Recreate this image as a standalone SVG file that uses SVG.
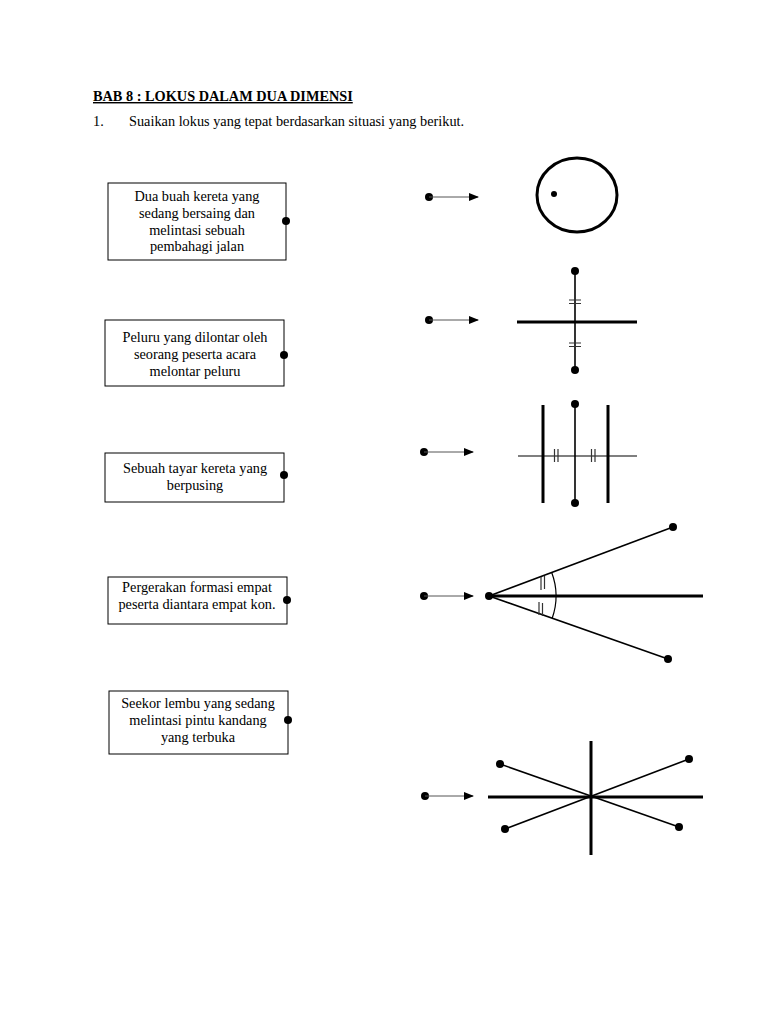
<svg xmlns="http://www.w3.org/2000/svg" width="768" height="1024" viewBox="0 0 768 1024">
<style>
text{font-family:"Liberation Serif","Times New Roman",serif;font-size:14.3px;fill:#000}
.c{text-anchor:middle}
.box{fill:#fff;stroke:#000;stroke-width:1}
.thin{stroke:#000;stroke-width:1.2;fill:none}
.thick{stroke:#000;stroke-width:3;fill:none}
.med{stroke:#000;stroke-width:1.6;fill:none}
.tick{stroke:#333;stroke-width:1.2;fill:none}
.arr{stroke:#555;stroke-width:1;fill:none;marker-end:url(#ah)}
</style>
<defs>
<marker id="ah" markerWidth="10" markerHeight="8" refX="9" refY="4" orient="auto" markerUnits="userSpaceOnUse">
<path d="M0,0 L10,4 L0,8 Z" fill="#000"/>
</marker>
</defs>
<rect width="768" height="1024" fill="#fff"/>
<g id="heading">
<text x="93" y="101" font-weight="bold" text-decoration="underline">BAB 8 : LOKUS DALAM DUA DIMENSI</text>
<text x="93" y="126">1.</text>
<text x="129" y="126">Suaikan lokus yang tepat berdasarkan situasi yang berikut.</text>
</g>
<g id="box1">
<rect class="box" x="108" y="183" width="178" height="77"/>
<text class="c" x="197" y="201">Dua buah kereta yang</text>
<text class="c" x="197" y="218">sedang bersaing dan</text>
<text class="c" x="197" y="235">melintasi sebuah</text>
<text class="c" x="197" y="251">pembahagi jalan</text>
<circle cx="286" cy="221" r="4"/>
</g>
<g id="box2">
<rect class="box" x="105" y="320" width="179" height="66"/>
<text class="c" x="195" y="342">Peluru yang dilontar oleh</text>
<text class="c" x="195" y="359">seorang peserta acara</text>
<text class="c" x="195" y="376">melontar peluru</text>
<circle cx="284" cy="355" r="4"/>
</g>
<g id="box3">
<rect class="box" x="105" y="453" width="179" height="49"/>
<text class="c" x="195" y="473">Sebuah tayar kereta yang</text>
<text class="c" x="195" y="490">berpusing</text>
<circle cx="284" cy="475" r="4"/>
</g>
<g id="box4">
<rect class="box" x="108" y="577" width="179" height="47"/>
<text class="c" x="197" y="592">Pergerakan formasi empat</text>
<text class="c" x="197" y="609">peserta diantara empat kon.</text>
<circle cx="287" cy="600" r="4"/>
</g>
<g id="box5">
<rect class="box" x="109" y="691" width="179" height="63"/>
<text class="c" x="198" y="708">Seekor lembu yang sedang</text>
<text class="c" x="198" y="725">melintasi pintu kandang</text>
<text class="c" x="198" y="742">yang terbuka</text>
<circle cx="288" cy="720" r="4"/>
</g>
<g id="connectors">
<circle cx="429" cy="197" r="4"/><line class="arr" x1="429" y1="197" x2="478" y2="197"/>
<circle cx="429" cy="320" r="4"/><line class="arr" x1="429" y1="320" x2="478" y2="320"/>
<circle cx="424" cy="452" r="4"/><line class="arr" x1="424" y1="452" x2="473" y2="452"/>
<circle cx="424" cy="596" r="4"/><line class="arr" x1="424" y1="596" x2="473" y2="596"/>
<circle cx="425" cy="796" r="4"/><line class="arr" x1="425" y1="796" x2="473" y2="796"/>
</g>
<g id="locus1">
<ellipse class="thick" cx="577" cy="195" rx="40" ry="37"/>
<circle cx="554" cy="194" r="3"/>
</g>
<g id="locus2">
<line class="med" x1="575" y1="271" x2="575" y2="370"/>
<line class="thick" x1="517" y1="322" x2="637" y2="322"/>
<circle cx="575" cy="271" r="4"/>
<circle cx="575" cy="370" r="4"/>
<path class="tick" d="M569,300 H581 M569,303.5 H581 M569,343 H581 M569,346.5 H581"/>
</g>
<g id="locus3">
<line class="thick" x1="543" y1="405" x2="543" y2="503"/>
<line class="thick" x1="608" y1="405" x2="608" y2="503"/>
<line class="med" x1="575" y1="404" x2="575" y2="503"/>
<line class="thin" x1="518" y1="456" x2="637" y2="456"/>
<circle cx="575" cy="404" r="4"/>
<circle cx="575" cy="503" r="4"/>
<path class="tick" d="M554.5,449 V462 M558,449 V462 M591.5,449 V462 M595,449 V462"/>
</g>
<g id="locus4">
<line class="thick" x1="489" y1="596" x2="703" y2="596"/>
<line class="med" x1="489" y1="596" x2="673" y2="527"/>
<line class="med" x1="489" y1="596" x2="668" y2="659"/>
<path class="thin" d="M551.7,572.5 A67,67 0 0 1 552.2,618.2"/>
<circle cx="489" cy="596" r="4"/>
<circle cx="673" cy="527" r="4"/>
<circle cx="668" cy="659" r="4"/>
<path class="tick" d="M541,577 V590 M544.5,576 V589 M539,602 V615 M542.5,603 V616"/>
</g>
<g id="locus5">
<line class="thick" x1="488" y1="797" x2="703" y2="797"/>
<line class="thick" x1="591" y1="741" x2="591" y2="855"/>
<line class="med" x1="500" y1="764" x2="679" y2="827"/>
<line class="med" x1="689" y1="759" x2="505" y2="829"/>
<circle cx="500" cy="764" r="4"/>
<circle cx="679" cy="827" r="4"/>
<circle cx="689" cy="759" r="4"/>
<circle cx="505" cy="829" r="4"/>
</g>
</svg>
